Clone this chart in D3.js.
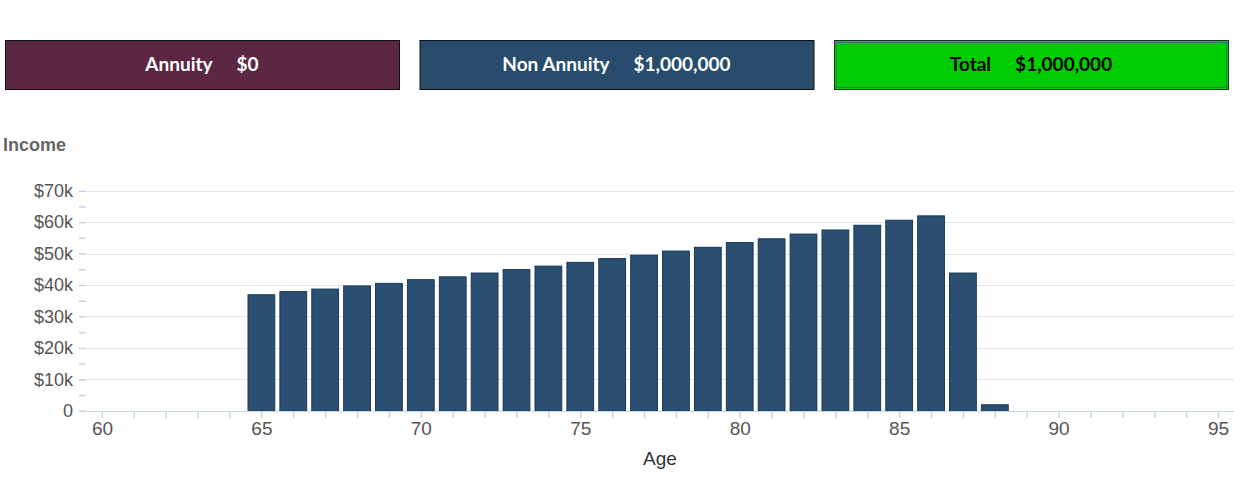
<!DOCTYPE html>
<html>
<head>
<meta charset="utf-8">
<script src="https://cdnjs.cloudflare.com/ajax/libs/d3/7.8.5/d3.min.js"></script>
<style>
  body { margin: 0; background: #fff; }
  svg { display: block; }
</style>
</head>
<body>
<script>
// summary boxes
var boxLabels = ["Annuity", "Non Annuity", "Total"];
var boxValues = ["$0", "$1,000,000", "$1,000,000"];
var boxColors = ["#5c2742", "#284c6c", "#00cc00"];
var boxText = ["#ffffff", "#ffffff", "#000000"];

// income per age
var ages = [65, 66, 67, 68, 69, 70, 71, 72, 73, 74, 75, 76, 77, 78, 79, 80, 81, 82, 83, 84, 85, 86, 87, 88];
var income = [36900, 37900, 38700, 39700, 40500, 41700, 42600, 43800, 44900, 46000, 47200, 48400,
              49500, 50800, 52000, 53500, 54700, 56200, 57500, 59000, 60600, 62000, 43800, 1900];
var yTicks = [0, 10000, 20000, 30000, 40000, 50000, 60000, 70000];
var xTicks = [60, 65, 70, 75, 80, 85, 90, 95];

var width = 1234, height = 492;
var svg = d3.select("body").append("svg").attr("width", width).attr("height", height);

// boxes
var boxW = 394, boxH = 49, boxY = 40;
var boxX = d3.scalePoint().domain(boxLabels).range([5, 834]);

var box = svg.selectAll("g.box")
    .data(boxLabels)
    .enter()
    .append("g")
    .attr("class", "box")
    .attr("transform", d => "translate(" + boxX(d) + "," + boxY + ")");

box.append("rect")
    .attr("x", 0.5)
    .attr("y", 0.5)
    .attr("width", boxW)
    .attr("height", boxH)
    .attr("fill", (d, i) => boxColors[i])
    .attr("stroke", (d, i) => i == 2 ? "#123a22" : "#111")
    .attr("stroke-width", 1);

// the total box has a second inner line
box.filter((d, i) => i == 2).append("rect")
    .attr("x", 2.5)
    .attr("y", 2.5)
    .attr("width", boxW - 4)
    .attr("height", boxH - 4)
    .attr("fill", "none")
    .attr("stroke", "#2e7a5a")
    .attr("stroke-width", 1);

var boxTxt = box.append("text")
    .attr("x", boxW / 2)
    .attr("y", boxH / 2 + 6.5)
    .attr("text-anchor", "middle")
    .style("font-family", "Lato, 'Open Sans', sans-serif")
    .style("font-weight", "bold")
    .style("font-size", "19px")
    .attr("fill", (d, i) => boxText[i]);
boxTxt.append("tspan").text(d => d);
boxTxt.append("tspan").attr("dx", 24).text((d, i) => boxValues[i]);

// chart
var x = d3.scaleLinear().domain([59.5, 95.5]).range([86, 1234]);
var y = d3.scaleLinear().domain([0, 70000]).range([410.7, 190.7]);

svg.append("text")
    .attr("x", 3)
    .attr("y", 151)
    .text("Income")
    .style("font-family", "'Liberation Sans', Arial, sans-serif")
    .style("font-weight", "bold")
    .style("font-size", "18px")
    .attr("fill", "#666");

// gridlines
svg.append("g")
    .selectAll("line")
    .data(yTicks.slice(1))
    .enter()
    .append("line")
    .attr("x1", 86)
    .attr("x2", width)
    .attr("y1", d => Math.round(y(d)) + 0.5)
    .attr("y2", d => Math.round(y(d)) + 0.5)
    .attr("stroke", "#e6e6e6")
    .attr("stroke-width", 1);

// y axis, minor ticks every 5k
var yAxis = d3.axisLeft(y)
    .tickValues(d3.range(0, 70001, 5000))
    .tickSize(7)
    .tickPadding(6)
    .tickFormat(d => d % 10000 ? "" : (d == 0 ? "0" : "$" + d / 1000 + "k"));

var gy = svg.append("g")
    .attr("transform", "translate(86,0)")
    .call(yAxis);
gy.select(".domain").remove();
gy.selectAll(".tick line").attr("stroke", "#c5d3ec").attr("stroke-width", 1.5);
gy.selectAll(".tick text")
    .attr("fill", "#555")
    .style("font-family", "'Liberation Sans', Arial, sans-serif")
    .style("font-size", "18px");

// bars
var step = x(1) - x(0);
var barW = step * 0.84;
svg.append("g")
    .selectAll("rect")
    .data(ages)
    .enter()
    .append("rect")
    .attr("x", d => x(d) - barW / 2)
    .attr("y", (d, i) => y(income[i]))
    .attr("width", barW)
    .attr("height", (d, i) => y(0) - y(income[i]))
    .attr("fill", "#2a4f70")
    .attr("stroke", "#173a5a")
    .attr("stroke-width", 1);

// x axis
var xAxis = d3.axisBottom(x)
    .tickValues(d3.range(60, 96))
    .tickSize(7)
    .tickPadding(4)
    .tickFormat(d => xTicks.indexOf(d) >= 0 ? d : "");

var gx = svg.append("g")
    .attr("transform", "translate(0,411)")
    .call(xAxis);
gx.select(".domain").attr("stroke", "#ccd6eb").attr("d", "M86,0.5H" + width);
gx.selectAll(".tick line").attr("stroke", "#c5d3ec").attr("stroke-width", 1.5);
gx.selectAll(".tick text")
    .attr("fill", "#555")
    .style("font-family", "'Liberation Sans', Arial, sans-serif")
    .style("font-size", "19px");

svg.append("text")
    .attr("x", 660)
    .attr("y", 465)
    .attr("text-anchor", "middle")
    .text("Age")
    .style("font-family", "'Liberation Sans', Arial, sans-serif")
    .style("font-size", "19px")
    .attr("fill", "#333");
</script>
</body>
</html>
